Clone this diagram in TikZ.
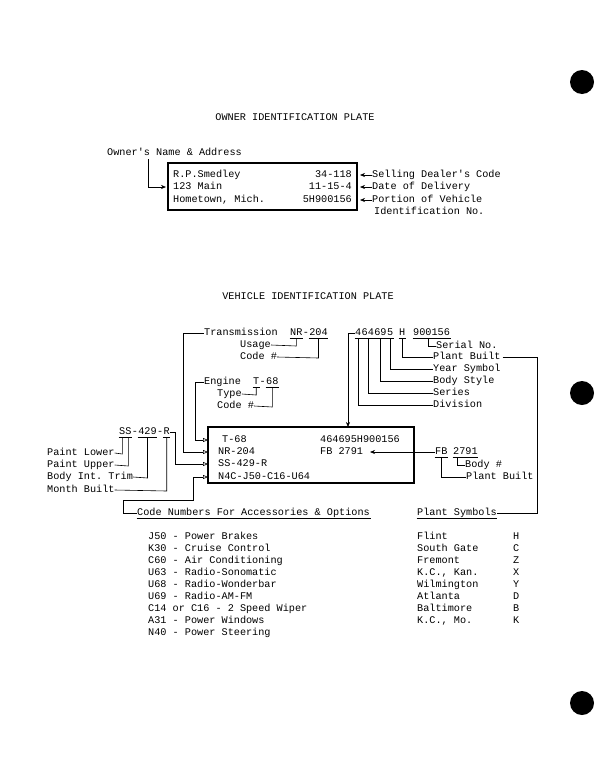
\documentclass[tikz,border=0pt]{standalone}
\usepackage{fontspec}
\setmonofont{Liberation Mono}
\usetikzlibrary{arrows.meta}
\begin{document}
\begin{tikzpicture}[x=1pt,y=-1pt,font=\ttfamily\fontsize{10.2}{12}\selectfont,
  t/.style={anchor=west,inner sep=0pt,text height=7pt,text depth=2pt},
  tr/.style={anchor=east,inner sep=0pt,text height=7pt,text depth=2pt},
  nx/.style={t,at={(#1.east)}},
  ln/.style={line width=0.6pt},
  ar/.style={ln,-{Stealth[length=5pt,width=4pt]}},
  oa/.style={ln,-{Triangle[open,length=5pt,width=4pt]}},
  ul/.style={ln,shorten <=-0.5pt,shorten >=-0.5pt}]
\newcommand\under[1]{\draw[ul] ([yshift=-1pt]#1.south west) -- ([yshift=-1pt]#1.south east);}
\useasboundingbox (0,0) rectangle (600,766);
\fill[white] (0,0) rectangle (600,766);
\foreach \yy in {82,393,703}{\fill (582,\yy) circle (12);}
% Owner plate
\node[inner sep=0] (t1) at (295,117) {OWNER IDENTIFICATION PLATE};
\node[t] (own) at (107,153) {Owner's Name \& Address};
\draw[line width=1.4pt] (168,163) rectangle (357,210);
\node[t] (o1) at (173,175) {R.P.Smedley};
\node[t] (o2) at (173,187) {123 Main};
\node[t] (o3) at (173,200) {Hometown, Mich.};
\node[tr] (o4) at (352,175) {34-118};
\node[tr] (o5) at (352,187) {11-15-4};
\node[tr] (o6) at (352,200) {5H900156};
\coordinate (ob) at (166,187);
\draw[ar] (148,159) -- (148,187) -- (ob);
\node[t] (l1) at (372,175) {Selling Dealer's Code};
\node[t] (l2) at (372,187) {Date of Delivery};
\node[t] (l3) at (372,200) {Portion of Vehicle};
\node[t] (l4) at (374,212) {Identification No.};
\draw[ar] (l1.west) -- (360,175);
\draw[ar] (l2.west) -- (360,187);
\draw[ar] (l3.west) -- (360,200);
% Vehicle plate
\node[inner sep=0] (t2) at (308,296) {VEHICLE IDENTIFICATION PLATE};
\draw[line width=1.4pt] (208,427) rectangle (414,483);
\node[t] (v1) at (222,440) {T-68};
\node[t] (v2) at (218,452) {NR-204};
\node[t] (v3) at (218,464) {SS-429-R};
\node[t] (v4) at (218,477) {N4C-J50-C16-U64};
\node[t] (v5) at (320,440) {464695H900156};
\node[t] (v6) at (320,452) {FB 2791};
% Transmission
\node[t] (tr) at (204,333) {Transmission};
\node[t] (nr) at (290,333) {NR};
\node[nx=nr] (d1) {-};
\node[nx=d1] (n204) {204};
\under{nr}\under{n204}
\node[t] (us) at (240,345) {Usage};
\node[t] (cd) at (240,357) {Code \#};
\draw[ln] (us.east) -- ([yshift=-1pt]nr.south |- us.east) -- ([yshift=-1pt]nr.south);
\draw[ln] (cd.east) -- ([yshift=-1pt]n204.south |- cd.east) -- ([yshift=-1pt]n204.south);
\draw[oa] (tr.west) -- (183,333) -- (183,452) -- (208,452);
% Engine
\node[t] (en) at (204,382) {Engine};
\node[t] (et) at (253,382) {T};
\node[nx=et] (d2) {-};
\node[nx=d2] (e68) {68};
\under{et}\under{e68}
\node[t] (ty) at (217,394) {Type};
\node[t] (cd2) at (217,406) {Code \#};
\draw[ln] (ty.east) -- ([yshift=-1pt]et.south |- ty.east) -- ([yshift=-1pt]et.south);
\draw[ln] (cd2.east) -- ([yshift=-1pt]e68.south |- cd2.east) -- ([yshift=-1pt]e68.south);
\draw[oa] (en.west) -- (195,382) -- (195,440) -- (208,440);
% SS-429-R
\node[t] (ss) at (119,432) {SS};
\node[nx=ss] (d3) {-};
\node[nx=d3] (s429) {429};
\node[nx=s429] (d4) {-};
\node[nx=d4] (sr) {R};
\under{ss}\under{s429}\under{sr}
\draw[oa] (sr.east) -- (175,432) -- (175,464) -- (208,464);
\node[t] (pl) at (47,453) {Paint Lower};
\node[t] (pu) at (47,465) {Paint Upper};
\node[t] (bt) at (47,477) {Body Int. Trim};
\node[t] (mb) at (47,490) {Month Built};
\draw[ln] (pl.east) -- ([yshift=-1pt,xshift=-3pt]ss.south |- pl.east) -- ([yshift=-1pt,xshift=-3pt]ss.south);
\draw[ln] (pu.east) -- ([yshift=-1pt,xshift=3pt]ss.south |- pu.east) -- ([yshift=-1pt,xshift=3pt]ss.south);
\draw[ln] (bt.east) -- ([yshift=-1pt]s429.south |- bt.east) -- ([yshift=-1pt]s429.south);
\draw[ln] (mb.east) -- ([yshift=-1pt]sr.south |- mb.east) -- ([yshift=-1pt]sr.south);
% Code numbers
\node[t] (cn) at (137,513) {Code Numbers For Accessories \& Options};
\under{cn}
\draw[oa] (cn.west) -- (123,513) -- (123,500) -- (193,500) -- (193,477) -- (208,477);
% VIN
\node[t] (g1) at (355,333) {4};
\node[nx=g1] (g2) {64};
\node[nx=g2] (g3) {69};
\node[nx=g3] (g4) {5};
\node[t] (gh) at (399,333) {H};
\node[t] (gs) at (413,333) {900156};
\foreach \g in {g1,g2,g3,g4,gh,gs}{\under{\g}}
\draw[ar] (g1.west) -- (348,333) -- (348,427);
\node[t] (sn) at (436,346) {Serial No.};
\node[t] (pb) at (433,357) {Plant Built};
\node[t] (ys) at (433,369) {Year Symbol};
\node[t] (bs) at (433,381) {Body Style};
\node[t] (se) at (433,393) {Series};
\node[t] (di) at (433,405) {Division};
\draw[ln] ([yshift=-1pt,xshift=-22pt]gs.south east) -- ([xshift=-22pt]gs.south east |- sn.west) -- (sn.west);
\draw[ln] ([yshift=-1pt]gh.south) -- (gh.south |- pb.west) -- (pb.west);
\draw[ln] ([yshift=-1pt]g4.south) -- (g4.south |- ys.west) -- (ys.west);
\draw[ln] ([yshift=-1pt]g3.south) -- (g3.south |- bs.west) -- (bs.west);
\draw[ln] ([yshift=-1pt]g2.south) -- (g2.south |- se.west) -- (se.west);
\draw[ln] ([yshift=-1pt]g1.south) -- (g1.south |- di.west) -- (di.west);
% Plant symbols
\node[t] (ps) at (417,513) {Plant Symbols};
\under{ps}
\draw[ln] ([xshift=2pt]pb.east) -- (537,357) -- (537,513) -- (ps.east);
% FB 2791
\node[t] (fb) at (435,452) {FB};
\node[t] (f2791) at (453,452) {2791};
\under{fb}\under{f2791}
\draw[ar] (fb.west) -- (370,452);
\node[t] (bn) at (465,465) {Body \#};
\node[t] (pb2) at (466,477) {Plant Built};
\draw[ln] ([yshift=-1pt,xshift=4pt]f2791.south west) -- ([xshift=4pt]f2791.south west |- bn.west) -- (bn.west);
\draw[ln] ([yshift=-1pt]fb.south) -- (fb.south |- pb2.west) -- (pb2.west);
% lists
\foreach \s [count=\i] in {J50 - Power Brakes, K30 - Cruise Control, C60 - Air Conditioning, U63 - Radio-Sonomatic, U68 - Radio-Wonderbar, U69 - Radio-AM-FM, C14 or C16 - 2 Speed Wiper, A31 - Power Windows, N40 - Power Steering}
  \node[t] (a\i) at (148,{525+12*\i}) {\s};
\foreach \s/\c [count=\i] in {Flint/H, South Gate/C, Fremont/Z, {K.C., Kan.}/X, Wilmington/Y, Atlanta/D, Baltimore/B, {K.C., Mo.}/K}{
  \node[t] (p\i) at (417,{525+12*\i}) {\s};
  \node[t] (c\i) at (513,{525+12*\i}) {\c};}
\end{tikzpicture}
\end{document}
